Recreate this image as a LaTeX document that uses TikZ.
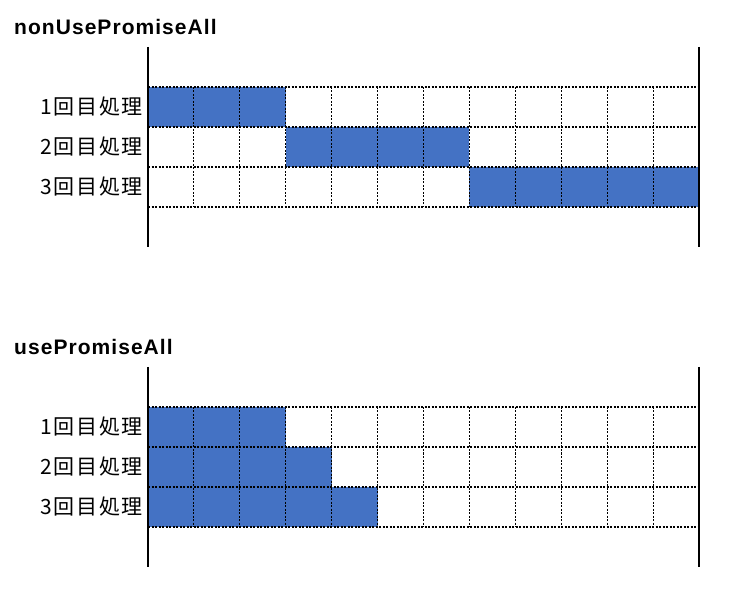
\documentclass[tikz,border=0pt]{standalone}
\usepackage{fontspec}
\setmainfont{Liberation Sans}
\newfontfamily\jpfont[LetterSpace=8]{Noto Sans CJK JP}
\newfontfamily\titlefont[LetterSpace=5]{Liberation Sans Bold}
\definecolor{barblue}{HTML}{4472C4}
\begin{document}
\begin{tikzpicture}[x=1pt,y=-1pt,
  gridline/.style={dash pattern=on 2pt off 1.5pt, line width=1.1pt},
  axisline/.style={line width=1.3pt},
  bar/.style={fill=barblue},
  lbl/.style={anchor=east, font=\jpfont\fontsize{21}{24}\selectfont, inner sep=0pt},
  ttl/.style={anchor=base west, font=\titlefont\fontsize{21}{24}\selectfont, inner sep=0pt}]
\useasboundingbox (0,0) rectangle (740,604);
\def\cw{45.9167}
% titles
\node[ttl] (t1) at (14,35) {nonUsePromiseAll};
\node[ttl] (t2) at (14,355) {usePromiseAll};
% chart 1 bars
\fill[bar] (148,87) rectangle ({148+3*\cw},127);
\fill[bar] ({148+3*\cw},127) rectangle ({148+7*\cw},167);
\fill[bar] ({148+7*\cw},167) rectangle (699,207);
% chart 2 bars
\fill[bar] (148,407) rectangle ({148+3*\cw},447);
\fill[bar] (148,447) rectangle ({148+4*\cw},487);
\fill[bar] (148,487) rectangle ({148+5*\cw},527);
\foreach \oy/\c in {0/a,320/b}{
  % horizontal grid lines
  \foreach \r in {0,1,2,3}{
    \draw[gridline] (148,{\oy+87+40*\r}) -- (699,{\oy+87+40*\r});
  }
  % vertical grid lines
  \foreach \k in {1,...,11}{
    \draw[gridline] ({148+\k*\cw},{\oy+87}) -- ({148+\k*\cw},{\oy+207});
  }
  % axes
  \draw[axisline] (148,{\oy+47}) -- (148,{\oy+247});
  \draw[axisline] (699,{\oy+47}) -- (699,{\oy+247});
  % labels
  \node[lbl] (l1\c) at (143,{\oy+107}) {1回目処理};
  \node[lbl] (l2\c) at (143,{\oy+147}) {2回目処理};
  \node[lbl] (l3\c) at (143,{\oy+187}) {3回目処理};
}
\end{tikzpicture}
\end{document}
